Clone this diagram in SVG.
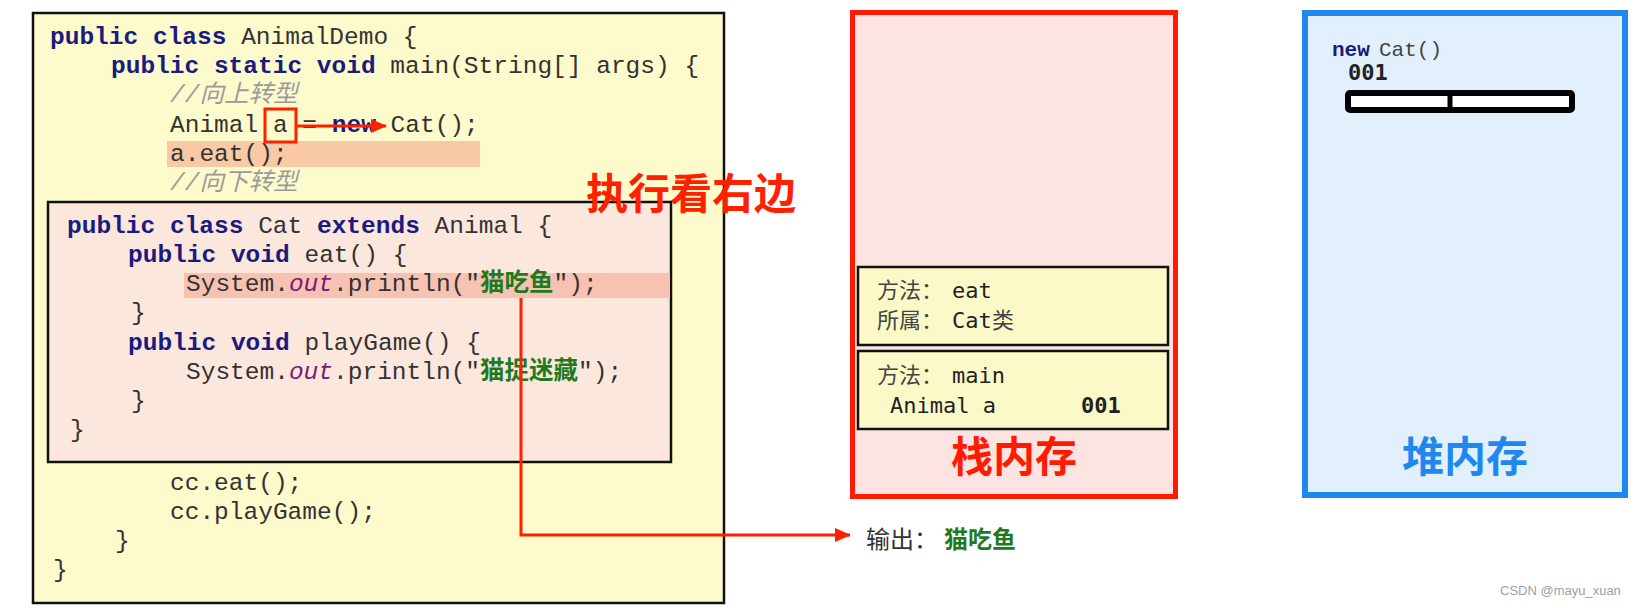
<svg xmlns="http://www.w3.org/2000/svg" width="1642" height="608" viewBox="0 0 1642 608">
<style>
.code{font-family:"Liberation Mono","Noto Sans CJK SC",monospace;font-size:24.5px;fill:#333}
.kw{font-weight:bold;fill:#1a1a80}
.cm{font-style:italic;fill:#9a9a9a}
.out{font-style:italic;fill:#7a1a7a}
.str{fill:#1f7a1f;font-weight:bold}
.mono{font-family:"DejaVu Sans Mono","Noto Sans CJK SC",monospace;font-size:22px;fill:#222}
.cjk{font-family:"Noto Sans CJK SC",sans-serif;font-size:22px;fill:#444}
.title{font-family:"Noto Sans CJK SC",sans-serif;font-size:42px;font-weight:bold;text-anchor:middle}
.frame{fill:#fcf9c8;stroke:#111;stroke-width:2.5}
.conn{fill:none;stroke:#ff2000;stroke-width:3}
</style>
<defs>
<marker id="arr" markerUnits="userSpaceOnUse" markerWidth="16" markerHeight="14" refX="15" refY="7" orient="auto">
<path d="M0,0 L16,7 L0,14 Z" fill="#ff2000"/>
</marker>
</defs>
<rect width="1642" height="608" fill="#ffffff"/>

<g id="code-panel">
<rect x="33" y="13" width="691" height="590" fill="#fdfacb" stroke="#111" stroke-width="2.5"/>
<rect x="167" y="141" width="313" height="26" fill="#f9c9a6"/>
<text class="code" x="50" y="44"><tspan class="kw">public class</tspan> AnimalDemo {</text>
<text class="code" x="111" y="73"><tspan class="kw">public static void</tspan> main(String[] args) {</text>
<text class="code cm" x="170" y="102">//向上转型</text>
<text class="code" x="170" y="132">Animal a = <tspan class="kw">new</tspan> Cat();</text>
<text class="code" x="170" y="161">a.eat();</text>
<text class="code cm" x="170" y="190">//向下转型</text>
<text class="code" x="170" y="490">cc.eat();</text>
<text class="code" x="170" y="519">cc.playGame();</text>
<text class="code" x="115" y="548">}</text>
<text class="code" x="53" y="577">}</text>
</g>

<g id="cat-class">
<rect x="48" y="202" width="623" height="260" fill="#fbe7dc" stroke="#111" stroke-width="2.5"/>
<rect x="184" y="273" width="486" height="25" fill="#f8c2b2"/>
<text class="code" x="67" y="233"><tspan class="kw">public class</tspan> Cat <tspan class="kw">extends</tspan> Animal {</text>
<text class="code" x="128" y="262"><tspan class="kw">public void</tspan> eat() {</text>
<text class="code" x="186" y="291">System.<tspan class="out">out</tspan>.println("<tspan class="str">猫吃鱼</tspan>");</text>
<text class="code" x="131" y="320">}</text>
<text class="code" x="128" y="350"><tspan class="kw">public void</tspan> playGame() {</text>
<text class="code" x="186" y="379">System.<tspan class="out">out</tspan>.println("<tspan class="str">猫捉迷藏</tspan>");</text>
<text class="code" x="131" y="408">}</text>
<text class="code" x="70" y="437">}</text>
</g>

<g id="var-highlight">
<rect x="265" y="109" width="31" height="33" fill="none" stroke="#ff2000" stroke-width="3"/>
</g>

<g id="annotation">
<text class="title" x="691" y="209" fill="#ff2000">执行看右边</text>
</g>

<g id="stack-memory">
<rect x="852.5" y="12.5" width="323" height="484" fill="#fde4e2" stroke="#ff1a00" stroke-width="5"/>
<g id="frame-eat">
<rect class="frame" x="858" y="267" width="310" height="78"/>
<text class="cjk" x="877" y="298">方法：<tspan class="mono" x="952">eat</tspan></text>
<text class="cjk" x="877" y="328">所属：<tspan class="mono" x="952">Cat</tspan><tspan x="992">类</tspan></text>
</g>
<g id="frame-main">
<rect class="frame" x="858" y="351" width="310" height="78"/>
<text class="cjk" x="877" y="383">方法：<tspan class="mono" x="952">main</tspan></text>
<text class="mono" x="890" y="413">Animal a</text>
<text class="mono" x="1081" y="413" font-weight="bold">001</text>
</g>
<text class="title" x="1014" y="472" fill="#ff1a00">栈内存</text>
</g>

<g id="heap-memory">
<rect x="1305" y="13" width="320" height="482" fill="#e2effc" stroke="#1e88ee" stroke-width="6"/>
<g id="cat-object">
<text x="1332" y="56" font-family="Liberation Mono, monospace" font-size="21" font-weight="bold" fill="#1a1a80">new</text>
<text x="1379" y="56" font-family="Liberation Mono, monospace" font-size="21" fill="#444">Cat()</text>
<text class="mono" x="1348" y="80" font-weight="bold">001</text>
<rect x="1348" y="93" width="224" height="17" rx="2" fill="#ffffff" stroke="#000" stroke-width="6"/>
<line x1="1450" y1="93" x2="1450" y2="110" stroke="#000" stroke-width="5"/>
</g>
<text class="title" x="1465" y="472" fill="#1e88ee">堆内存</text>
</g>

<g id="output-label">
<text x="866" y="548" font-family="Noto Sans CJK SC, sans-serif" font-size="24" fill="#333">输出：</text>
<text x="944" y="548" font-family="Noto Sans CJK SC, sans-serif" font-size="24" fill="#1f7a1f" font-weight="bold">猫吃鱼</text>
</g>

<g id="connectors">
<line class="conn" x1="296" y1="126" x2="386" y2="126" marker-end="url(#arr)"/>
<polyline class="conn" points="521,298 521,535 850,535" marker-end="url(#arr)"/>
</g>

<text x="1500" y="595" font-family="Liberation Sans, Arial, sans-serif" font-size="13" fill="#a0a0a0">CSDN @mayu_xuan</text>
</svg>
